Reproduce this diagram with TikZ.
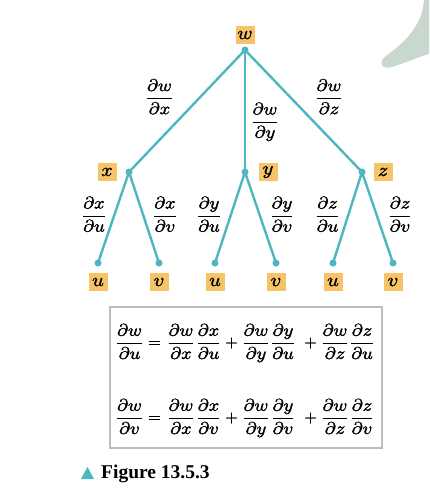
\RequirePackage{fix-cm}
\documentclass[tikz,border=0pt]{standalone}
\usepackage{graphicx}
\usepackage{fontspec}
\newfontfamily\capfont{Liberation Serif}
\definecolor{tealc}{HTML}{4DB6BF}
\definecolor{orgc}{HTML}{F6C466}
\definecolor{blobc}{HTML}{C9D8CF}
\definecolor{framec}{HTML}{BDBDBD}
\newcommand{\heavy}[1]{\special{pdf:literal direct 2 Tr 0.35 w}#1\special{pdf:literal direct 0 Tr}}
\newcommand{\wide}[1]{\scalebox{1.12}[1]{\heavy{#1}}}
\newcommand{\pdv}[2]{\wide{$\displaystyle\frac{\partial #1}{\partial #2}$}}
\begin{document}
\begin{tikzpicture}[x=1pt,y=-1pt, font=\fontsize{17}{20}\selectfont,
  lbl/.style={fill=orgc, minimum width=19pt, minimum height=18pt, inner sep=0pt, font=\fontsize{18.5}{20}\selectfont},
  dotn/.style={circle, fill=tealc, minimum size=7pt, inner sep=0pt},
  edgec/.style={draw=tealc, line width=2.4pt},
  elab/.style={inner sep=0pt, anchor=base}]
\useasboundingbox (0,0) rectangle (429,500);
% decorative blob
\fill[blobc] (424,0) .. controls (422,28) and (402,44) .. (386,56)
  .. controls (378,62) and (381,70) .. (392,67)
  .. controls (405,63) and (418,57) .. (429,54) -- (429,0) -- cycle;
% dots
\node[dotn] (w) at (245,50) {};
\node[dotn] (x) at (129,172) {};
\node[dotn] (y) at (245,172) {};
\node[dotn] (z) at (362,172) {};
\node[dotn] (u1) at (98,263) {};
\node[dotn] (v1) at (159,263) {};
\node[dotn] (u2) at (215,263) {};
\node[dotn] (v2) at (276,263) {};
\node[dotn] (u3) at (333,263) {};
\node[dotn] (v3) at (393,263) {};
% edges
\draw[edgec] (w.center) -- (x.center);
\draw[edgec] (w.center) -- (y.center);
\draw[edgec] (w.center) -- (z.center);
\draw[edgec] (x.center) -- (u1.center);
\draw[edgec] (x.center) -- (v1.center);
\draw[edgec] (y.center) -- (u2.center);
\draw[edgec] (y.center) -- (v2.center);
\draw[edgec] (z.center) -- (u3.center);
\draw[edgec] (z.center) -- (v3.center);
% labels
\node[lbl] (wl) at (245,35) {\wide{$w$}};
\node[lbl] (xl) at (107,172) {\wide{$x$}};
\node[lbl] (yl) at (268,172) {\wide{$y$}};
\node[lbl] (zl) at (383,172) {\wide{$z$}};
\node[lbl] (u1l) at (98,282) {\wide{$u$}};
\node[lbl] (v1l) at (159,282) {\wide{$v$}};
\node[lbl] (u2l) at (215,282) {\wide{$u$}};
\node[lbl] (v2l) at (276,282) {\wide{$v$}};
\node[lbl] (u3l) at (333,282) {\wide{$u$}};
\node[lbl] (v3l) at (393,282) {\wide{$v$}};
% edge labels (baseline = rule + 4.25)
\node[elab] (lwx) at (159.5,102.5) {\pdv{w}{x}};
\node[elab] (lwy) at (265,126) {\pdv{w}{y}};
\node[elab] (lwz) at (329,102.5) {\pdv{w}{z}};
\node[elab] (lxu) at (94,220) {\pdv{x}{u}};
\node[elab] (lxv) at (165,220) {\pdv{x}{v}};
\node[elab] (lyu) at (209,220) {\pdv{y}{u}};
\node[elab] (lyv) at (282,220) {\pdv{y}{v}};
\node[elab] (lzu) at (327.5,220) {\pdv{z}{u}};
\node[elab] (lzv) at (400,220) {\pdv{z}{v}};
% formula box
\draw[draw=framec, line width=1.8pt] (110,307) rectangle (382,448);
% equation 1 (axis at 343)
\node[elab] (e1a) at (129.5,347.25) {\pdv{w}{u}};
\node[elab] (e1b) at (154.5,347.25) {\heavy{$=$}};
\node[elab] (e1c) at (181,347.25) {\pdv{w}{x}};
\node[elab] (e1d) at (208.5,347.25) {\pdv{x}{u}};
\node[elab] (e1e) at (231.5,347.25) {\heavy{$+$}};
\node[elab] (e1f) at (256,347.25) {\pdv{w}{y}};
\node[elab] (e1g) at (283,347.25) {\pdv{y}{u}};
\node[elab] (e1h) at (310.5,347.25) {\heavy{$+$}};
\node[elab] (e1i) at (335,347.25) {\pdv{w}{z}};
\node[elab] (e1j) at (362,347.25) {\pdv{z}{u}};
% equation 2 (axis at 418)
\node[elab] (e2a) at (129.5,422.25) {\pdv{w}{v}};
\node[elab] (e2b) at (154.5,422.25) {\heavy{$=$}};
\node[elab] (e2c) at (181,422.25) {\pdv{w}{x}};
\node[elab] (e2d) at (208.5,422.25) {\pdv{x}{v}};
\node[elab] (e2e) at (231.5,422.25) {\heavy{$+$}};
\node[elab] (e2f) at (256,422.25) {\pdv{w}{y}};
\node[elab] (e2g) at (283,422.25) {\pdv{y}{v}};
\node[elab] (e2h) at (310.5,422.25) {\heavy{$+$}};
\node[elab] (e2i) at (335,422.25) {\pdv{w}{z}};
\node[elab] (e2j) at (362,422.25) {\pdv{z}{v}};
% caption
\fill[tealc] (81,479) -- (94,479) -- (87.5,467) -- cycle;
\node[anchor=base west, inner sep=0pt, font=\capfont\bfseries\fontsize{19.5}{22}\selectfont] (cap) at (101,478) {Figure 13.5.3};
\end{tikzpicture}
\end{document}
